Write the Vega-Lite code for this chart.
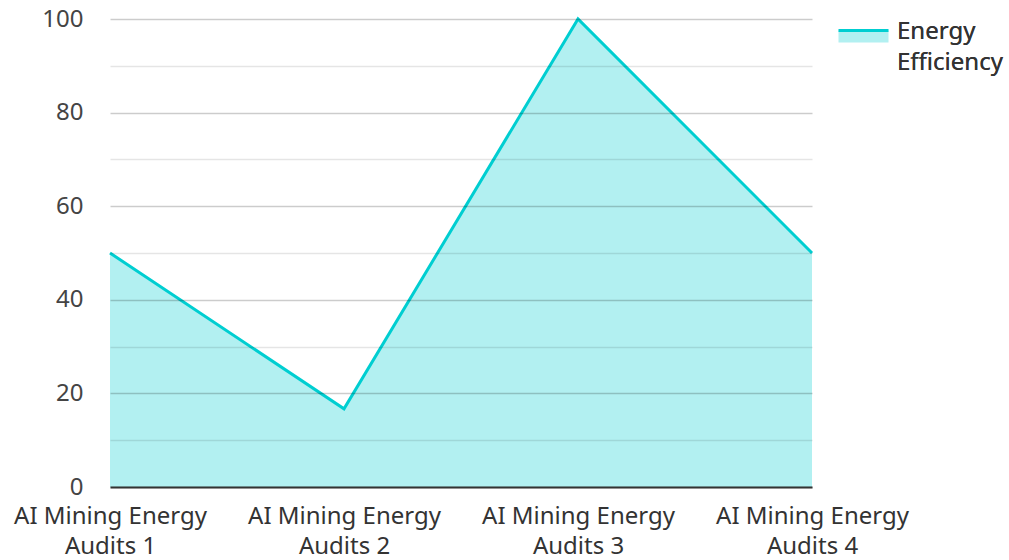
{
  "$schema": "https://vega.github.io/schema/vega-lite/v6.json",
  "width": 702,
  "height": 468,
  "autosize": {"type": "none"},
  "padding": {"left": 110, "top": 19, "right": 197, "bottom": 73},
  "background": "white",
  "config": {
    "font": "Noto Sans",
    "view": {"stroke": null}
  },
  "data": {
    "values": [
      {"audit": "AI Mining Energy Audits 1", "value": 50, "series": "Energy Efficiency"},
      {"audit": "AI Mining Energy Audits 2", "value": 16.7, "series": "Energy Efficiency"},
      {"audit": "AI Mining Energy Audits 3", "value": 100, "series": "Energy Efficiency"},
      {"audit": "AI Mining Energy Audits 4", "value": 50, "series": "Energy Efficiency"}
    ]
  },
  "encoding": {
    "x": {
      "field": "audit",
      "type": "ordinal",
      "scale": {"type": "point", "padding": 0},
      "axis": {
        "title": null,
        "labelAngle": 0,
        "labelExpr": "[substring(datum.label, 0, 16), substring(datum.label, 17)]",
        "labelFontSize": 24,
        "labelColor": "#333333",
        "labelLineHeight": 30,
        "labelPadding": 17,
        "labelLimit": 0,
        "ticks": false,
        "domain": true,
        "domainColor": "#333333",
        "domainWidth": 2,
        "grid": false,
        "zindex": 1
      }
    },
    "y": {
      "field": "value",
      "type": "quantitative",
      "scale": {"domain": [0, 100], "nice": false},
      "axis": {
        "title": null,
        "values": [0, 10, 20, 30, 40, 50, 60, 70, 80, 90, 100],
        "labelExpr": "datum.value % 20 === 0 ? datum.label : ''",
        "labelFontSize": 24,
        "labelColor": "#444444",
        "labelPadding": 27,
        "ticks": false,
        "domain": false,
        "grid": true,
        "gridColor": "#000000",
        "gridOpacity": {"condition": {"test": "datum.value % 20 === 0", "value": 0.2}, "value": 0.1},
        "gridWidth": 1.5,
        "zindex": 1
      }
    }
  },
  "layer": [
    {
      "mark": {"type": "area", "opacity": 1},
      "encoding": {
        "fill": {
          "field": "series",
          "type": "nominal",
          "scale": {"range": ["#b2f0f1"]},
          "legend": {
            "title": null,
            "orient": "none",
            "legendX": 727,
            "legendY": -7,
            "padding": 0,
            "labelFontSize": 24,
            "labelColor": "#333333",
            "labelOffset": 7,
            "labelLimit": 0,
            "labelBaseline": "alphabetic",
            "labelExpr": "split(datum.label, ' ')",
            "symbolType": "M-1,-0.32L1,-0.32L1,0.16L-1,0.16Z",
            "symbolSize": 2500,
            "symbolStrokeWidth": 3,
            "symbolDash": [50, 300],
            "symbolOpacity": 1,
            "encoding": {"labels": {"lineHeight": {"value": 31}}}
          }
        }
      }
    },
    {
      "mark": {"type": "line", "strokeWidth": 3},
      "encoding": {
        "stroke": {
          "field": "series",
          "type": "nominal",
          "scale": {"range": ["#00CED1"]},
          "legend": {
            "title": null,
            "orient": "none",
            "legendX": 727,
            "legendY": -7,
            "padding": 0,
            "labelFontSize": 24,
            "labelColor": "#333333",
            "labelOffset": 7,
            "labelLimit": 0,
            "labelBaseline": "alphabetic",
            "labelExpr": "split(datum.label, ' ')",
            "symbolType": "M-1,-0.32L1,-0.32L1,0.16L-1,0.16Z",
            "symbolSize": 2500,
            "symbolStrokeWidth": 3,
            "symbolDash": [50, 300],
            "symbolOpacity": 1,
            "encoding": {"labels": {"lineHeight": {"value": 31}}}
          }
        }
      }
    }
  ]
}
